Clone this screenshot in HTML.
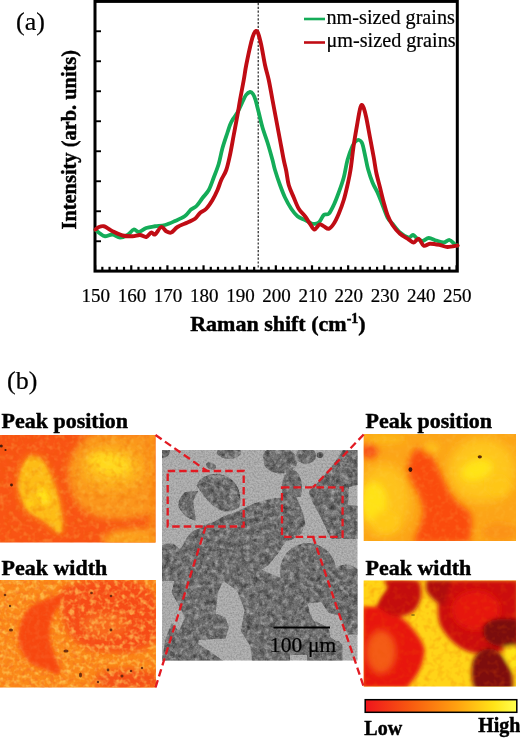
<!DOCTYPE html>
<html><head><meta charset="utf-8"><title>Figure</title>
<style>
html,body{margin:0;padding:0;background:#fff;}
svg{display:block;}
text{font-family:"Liberation Serif","DejaVu Serif",serif;fill:#000;stroke:#000;stroke-width:0.2px;}
.b{font-weight:bold;stroke-width:0.45px;}
</style></head><body>
<svg width="520" height="738" viewBox="0 0 520 738">
<defs>
<linearGradient id="cbar" x1="0" x2="1" y1="0" y2="0">
<stop offset="0" stop-color="#f0141c"/><stop offset="0.3" stop-color="#f85a10"/><stop offset="0.6" stop-color="#ffa010"/><stop offset="0.85" stop-color="#ffe418"/><stop offset="1" stop-color="#ffff50"/>
</linearGradient>
<filter id="bl2" x="-20%" y="-20%" width="140%" height="140%"><feGaussianBlur stdDeviation="2"/></filter>
<filter id="bl3" x="-20%" y="-20%" width="140%" height="140%"><feGaussianBlur stdDeviation="3.5"/></filter>
<filter id="bl5" x="-30%" y="-30%" width="160%" height="160%"><feGaussianBlur stdDeviation="6"/></filter>
<filter id="bl1" x="-20%" y="-20%" width="140%" height="140%"><feGaussianBlur stdDeviation="1"/></filter>
<filter id="bl05" x="-20%" y="-20%" width="140%" height="140%"><feGaussianBlur stdDeviation="0.6"/></filter>
<!-- monochrome noise for texture -->
<filter id="noiseA" x="0" y="0" width="100%" height="100%">
<feTurbulence type="fractalNoise" baseFrequency="0.35" numOctaves="2" seed="3" result="t"/>
<feColorMatrix in="t" type="matrix" values="0 0 0 0 0.35  0 0 0 0 0.05  0 0 0 0 0  1.6 0 0 0 -0.55"/>
</filter>
<filter id="noiseY" x="0" y="0" width="100%" height="100%">
<feTurbulence type="fractalNoise" baseFrequency="0.4" numOctaves="2" seed="11" result="t"/>
<feColorMatrix in="t" type="matrix" values="0 0 0 0 1  0 0 0 0 0.85  0 0 0 0 0.2  0 1.8 0 0 -0.7"/>
</filter>
<filter id="noiseG" x="0" y="0" width="100%" height="100%">
<feTurbulence type="fractalNoise" baseFrequency="0.55" numOctaves="3" seed="7" result="t"/>
<feColorMatrix in="t" type="matrix" values="0 0 0 0 0  0 0 0 0 0  0 0 0 0 0  2.2 0 0 0 -0.8"/>
</filter>
<filter id="noiseW" x="0" y="0" width="100%" height="100%">
<feTurbulence type="fractalNoise" baseFrequency="0.6" numOctaves="3" seed="21" result="t"/>
<feColorMatrix in="t" type="matrix" values="0 0 0 0 1  0 0 0 0 1  0 0 0 0 1  0 2.2 0 0 -0.85"/>
</filter>
<clipPath id="cTL"><rect x="0" y="435" width="155.5" height="107.5"/></clipPath>
<clipPath id="cBL"><rect x="0" y="580" width="156" height="107.5"/></clipPath>
<clipPath id="cTR"><rect x="363.7" y="434" width="152.3" height="107"/></clipPath>
<clipPath id="cBR"><rect x="363.7" y="580.6" width="152.3" height="106"/></clipPath>
<clipPath id="cSEM"><rect x="162" y="450" width="195.5" height="210.5"/></clipPath>
<filter id="mottleD" x="0" y="0" width="100%" height="100%">
<feTurbulence type="fractalNoise" baseFrequency="0.16" numOctaves="2" seed="5" result="t"/>
<feColorMatrix in="t" type="matrix" values="0 0 0 0 0.85  0 0 0 0 0.1  0 0 0 0 0  2.4 0 0 0 -1.1"/>
</filter>
<filter id="mottleL" x="0" y="0" width="100%" height="100%">
<feTurbulence type="fractalNoise" baseFrequency="0.18" numOctaves="2" seed="9" result="t"/>
<feColorMatrix in="t" type="matrix" values="0 0 0 0 1  0 0 0 0 0.8  0 0 0 0 0.15  0 2.4 0 0 -1.1"/>
</filter>
<filter id="speckL" x="0" y="0" width="100%" height="100%">
<feTurbulence type="fractalNoise" baseFrequency="0.2" numOctaves="2" seed="14" result="t"/>
<feColorMatrix in="t" type="matrix" values="0 0 0 0 1  0 0 0 0 0.72  0 0 0 0 0.14  0 3 0 0 -1.3"/>
</filter>
<filter id="speckD" x="0" y="0" width="100%" height="100%">
<feTurbulence type="fractalNoise" baseFrequency="0.22" numOctaves="2" seed="30" result="t"/>
<feColorMatrix in="t" type="matrix" values="0 0 0 0 0.9  0 0 0 0 0.12  0 0 0 0 0.02  3 0 0 0 -1.45"/>
</filter>
<filter id="semTex" x="0" y="0" width="100%" height="100%">
<feTurbulence type="fractalNoise" baseFrequency="0.17" numOctaves="3" seed="4" result="t"/>
<feColorMatrix in="t" type="matrix" values="0 0 0 0 0  0 0 0 0 0  0 0 0 0 0  2.0 0 0 0 -0.82"/>
</filter>
<mask id="grainMask" maskUnits="userSpaceOnUse" x="162" y="450" width="196" height="211"><rect x="162" y="450" width="196" height="211" fill="#000"/><g filter="url(#bl05)">
<g fill="#fff">
<circle cx="163" cy="451" r="7"/>
<ellipse cx="229" cy="452" rx="12" ry="7"/>
<ellipse cx="211" cy="466" rx="5.5" ry="3.2" transform="rotate(25 211 466)"/>
<path d="M196.5,485.5 C200,477 210,473 219,474 C230,475.5 238,484 240,494 C241,500 240,505 239,507.5 C235,510.5 228,512 223.5,511.5 C214,508.5 205,499 196.5,485.5Z"/>
<path d="M185,492 L198.5,490.7 C195,496 193,500 193.7,504 C194,510 196,516 195.6,520.7 C190,519 185,516 183,513.4 C180,510 178,507 178.3,503.8 C179,499 182,495 185,492Z"/>
<ellipse cx="280.5" cy="461" rx="17" ry="12.5"/>
<ellipse cx="271" cy="457" rx="8" ry="8"/>
<ellipse cx="306" cy="455.5" rx="10" ry="8.5"/>
<ellipse cx="320" cy="455" rx="3.5" ry="3"/>
<ellipse cx="292" cy="488" rx="10" ry="18"/>
<circle cx="280" cy="524" r="26"/>
<!-- lower mass -->
<path d="M162,545.6 C166,544 169,543 172,543.5 C176,545 178,548 180,549 C183,546 185,541 187,537.5 C189,535 191,532 193.6,530.8 L200,528 L204,525 L213.8,522 L223.5,516.3 L237,511.5 L244.4,508 L255,503 L270,499 L282,497.5 L299,497 L306,510 L331,539 L358,539 L358,661 L162,661Z"/>
</g>
<!-- light holes 1 -->
<g fill="#000">
<path d="M296,497 L335,495 L335,539 L358,539 L358,572 L330,572 L300,560 L283,578.5 L272.3,574.6 L261.7,569.8 L268.5,565 L278,553.5 L285.8,541 L291.5,540 L301,534 L305.5,524.6 L303,513 L299,503Z"/>
<path d="M162,581 L174.4,581 L171.5,592.5 L179,606 L185,617.5 L179,631 L171.5,623 L165,640 L163,655 L162,655Z"/>
<path d="M223.5,581 L237,590.5 L244.6,609.8 L240.8,631 L250.4,646 L252,661 L223.5,661 L208,650 L198,644 L199,640 L225.4,638.6 L229,627 L225.4,617.5 L215.8,613.6 L217.7,592.5Z"/>
</g>
<g fill="#fff">
<path d="M343,450 L358,450 L358,485 L349,487 L348,505 L358,506 L358,539 L331,539 C328,532 322,520 318,512 C314,505 309,497 309,491 C316,484 325,478 343,450Z"/>
<circle cx="308" cy="571" r="28"/>
<ellipse cx="346" cy="590" rx="20" ry="25.5"/>
<circle cx="353" cy="622" r="12"/>
</g>
<g fill="#000">
<path d="M307.5,603.5 L321,602 L329,613 L339.8,615.6 L344,626 L348,634.4 L358,634.4 L358,661 L342.5,661 L342.5,645 L339,641 L335.8,641 L330.4,637 L329,629 L323.6,625 L314,621 L310,614Z"/>
<path d="M290,655 L307,655 L307,661 L290,661Z"/>
</g>
</g>
</mask>
<filter id="semTexL" x="0" y="0" width="100%" height="100%">
<feTurbulence type="fractalNoise" baseFrequency="0.2" numOctaves="3" seed="17" result="t"/>
<feColorMatrix in="t" type="matrix" values="0 0 0 0 1  0 0 0 0 1  0 0 0 0 1  0 2.4 0 0 -1.05"/>
</filter>
<filter id="bl15" x="-20%" y="-20%" width="140%" height="140%"><feGaussianBlur stdDeviation="1.5"/></filter>

</defs>
<rect width="520" height="738" fill="#fff"/>
<!-- (a) plot -->
<g id="plot">
<rect x="95" y="1.4" width="362.3" height="269.7" fill="none" stroke="#000" stroke-width="3"/>
<g stroke="#000" stroke-width="2.2"><line x1="95.10" y1="265.3" x2="95.10" y2="270"/><line x1="102.33" y1="266.8" x2="102.33" y2="270"/><line x1="109.56" y1="266.8" x2="109.56" y2="270"/><line x1="116.79" y1="266.8" x2="116.79" y2="270"/><line x1="124.02" y1="266.8" x2="124.02" y2="270"/><line x1="131.25" y1="265.3" x2="131.25" y2="270"/><line x1="138.48" y1="266.8" x2="138.48" y2="270"/><line x1="145.71" y1="266.8" x2="145.71" y2="270"/><line x1="152.94" y1="266.8" x2="152.94" y2="270"/><line x1="160.17" y1="266.8" x2="160.17" y2="270"/><line x1="167.40" y1="265.3" x2="167.40" y2="270"/><line x1="174.63" y1="266.8" x2="174.63" y2="270"/><line x1="181.86" y1="266.8" x2="181.86" y2="270"/><line x1="189.09" y1="266.8" x2="189.09" y2="270"/><line x1="196.32" y1="266.8" x2="196.32" y2="270"/><line x1="203.55" y1="265.3" x2="203.55" y2="270"/><line x1="210.78" y1="266.8" x2="210.78" y2="270"/><line x1="218.01" y1="266.8" x2="218.01" y2="270"/><line x1="225.24" y1="266.8" x2="225.24" y2="270"/><line x1="232.47" y1="266.8" x2="232.47" y2="270"/><line x1="239.70" y1="265.3" x2="239.70" y2="270"/><line x1="246.93" y1="266.8" x2="246.93" y2="270"/><line x1="254.16" y1="266.8" x2="254.16" y2="270"/><line x1="261.39" y1="266.8" x2="261.39" y2="270"/><line x1="268.62" y1="266.8" x2="268.62" y2="270"/><line x1="275.85" y1="265.3" x2="275.85" y2="270"/><line x1="283.08" y1="266.8" x2="283.08" y2="270"/><line x1="290.31" y1="266.8" x2="290.31" y2="270"/><line x1="297.54" y1="266.8" x2="297.54" y2="270"/><line x1="304.77" y1="266.8" x2="304.77" y2="270"/><line x1="312.00" y1="265.3" x2="312.00" y2="270"/><line x1="319.23" y1="266.8" x2="319.23" y2="270"/><line x1="326.46" y1="266.8" x2="326.46" y2="270"/><line x1="333.69" y1="266.8" x2="333.69" y2="270"/><line x1="340.92" y1="266.8" x2="340.92" y2="270"/><line x1="348.15" y1="265.3" x2="348.15" y2="270"/><line x1="355.38" y1="266.8" x2="355.38" y2="270"/><line x1="362.61" y1="266.8" x2="362.61" y2="270"/><line x1="369.84" y1="266.8" x2="369.84" y2="270"/><line x1="377.07" y1="266.8" x2="377.07" y2="270"/><line x1="384.30" y1="265.3" x2="384.30" y2="270"/><line x1="391.53" y1="266.8" x2="391.53" y2="270"/><line x1="398.76" y1="266.8" x2="398.76" y2="270"/><line x1="405.99" y1="266.8" x2="405.99" y2="270"/><line x1="413.22" y1="266.8" x2="413.22" y2="270"/><line x1="420.45" y1="265.3" x2="420.45" y2="270"/><line x1="427.68" y1="266.8" x2="427.68" y2="270"/><line x1="434.91" y1="266.8" x2="434.91" y2="270"/><line x1="442.14" y1="266.8" x2="442.14" y2="270"/><line x1="449.37" y1="266.8" x2="449.37" y2="270"/><line x1="456.60" y1="265.3" x2="456.60" y2="270"/><line x1="95" y1="31.25" x2="101" y2="31.25" stroke-width="1.9"/><line x1="95" y1="61.25" x2="101" y2="61.25" stroke-width="1.9"/><line x1="95" y1="91.25" x2="101" y2="91.25" stroke-width="1.9"/><line x1="95" y1="121.25" x2="101" y2="121.25" stroke-width="1.9"/><line x1="95" y1="151.25" x2="101" y2="151.25" stroke-width="1.9"/><line x1="95" y1="181.25" x2="101" y2="181.25" stroke-width="1.9"/><line x1="95" y1="211.25" x2="101" y2="211.25" stroke-width="1.9"/><line x1="95" y1="241.25" x2="101" y2="241.25" stroke-width="1.9"/></g>
<line x1="258.2" y1="3" x2="258.2" y2="269" stroke="#111" stroke-width="1.1" stroke-dasharray="2.2 1.6"/>
<path d="M95.50,229.50 C96.25,230.17 98.42,232.38 100.00,233.50 C101.58,234.62 102.92,236.08 105.00,236.25 C107.08,236.42 110.00,234.29 112.50,234.50 C115.00,234.71 117.50,237.42 120.00,237.50 C122.50,237.58 125.21,236.33 127.50,235.00 C129.79,233.67 131.88,230.00 133.75,229.50 C135.62,229.00 136.67,232.25 138.75,232.00 C140.83,231.75 143.54,228.96 146.25,228.00 C148.96,227.04 151.88,226.75 155.00,226.25 C158.12,225.75 161.67,225.88 165.00,225.00 C168.33,224.12 171.67,222.50 175.00,221.00 C178.33,219.50 182.33,217.92 185.00,216.00 C187.67,214.08 189.08,211.17 191.00,209.50 C192.92,207.83 194.58,207.92 196.50,206.00 C198.42,204.08 200.46,200.67 202.50,198.00 C204.54,195.33 206.88,193.42 208.75,190.00 C210.62,186.58 212.08,181.88 213.75,177.50 C215.42,173.12 217.29,168.67 218.75,163.75 C220.21,158.83 221.04,153.21 222.50,148.00 C223.96,142.79 226.25,136.33 227.50,132.50 C228.75,128.67 229.08,127.25 230.00,125.00 C230.92,122.75 231.75,121.08 233.00,119.00 C234.25,116.92 236.00,115.17 237.50,112.50 C239.00,109.83 240.58,105.92 242.00,103.00 C243.42,100.08 244.67,96.83 246.00,95.00 C247.33,93.17 248.83,92.17 250.00,92.00 C251.17,91.83 252.08,92.67 253.00,94.00 C253.92,95.33 254.54,96.92 255.50,100.00 C256.46,103.08 257.58,107.92 258.75,112.50 C259.92,117.08 261.04,122.50 262.50,127.50 C263.96,132.50 265.83,137.08 267.50,142.50 C269.17,147.92 271.25,155.42 272.50,160.00 C273.75,164.58 273.75,165.83 275.00,170.00 C276.25,174.17 278.33,180.42 280.00,185.00 C281.67,189.58 283.12,193.54 285.00,197.50 C286.88,201.46 289.17,205.62 291.25,208.75 C293.33,211.88 295.21,214.38 297.50,216.25 C299.79,218.12 302.50,218.75 305.00,220.00 C307.50,221.25 310.21,223.33 312.50,223.75 C314.79,224.17 316.88,223.96 318.75,222.50 C320.62,221.04 322.08,216.46 323.75,215.00 C325.42,213.54 327.08,215.42 328.75,213.75 C330.42,212.08 332.08,208.54 333.75,205.00 C335.42,201.46 337.08,197.08 338.75,192.50 C340.42,187.92 342.29,182.92 343.75,177.50 C345.21,172.08 346.04,165.25 347.50,160.00 C348.96,154.75 351.08,149.17 352.50,146.00 C353.92,142.83 354.92,142.00 356.00,141.00 C357.08,140.00 358.08,139.83 359.00,140.00 C359.92,140.17 360.83,141.00 361.50,142.00 C362.17,143.00 362.33,143.42 363.00,146.00 C363.67,148.58 364.67,153.67 365.50,157.50 C366.33,161.33 366.83,164.83 368.00,169.00 C369.17,173.17 370.92,178.58 372.50,182.50 C374.08,186.42 375.83,188.75 377.50,192.50 C379.17,196.25 380.83,200.83 382.50,205.00 C384.17,209.17 385.83,214.38 387.50,217.50 C389.17,220.62 390.42,221.25 392.50,223.75 C394.58,226.25 397.29,230.21 400.00,232.50 C402.71,234.79 406.58,237.08 408.75,237.50 C410.92,237.92 411.54,234.79 413.00,235.00 C414.46,235.21 415.92,237.75 417.50,238.75 C419.08,239.75 420.62,241.12 422.50,241.00 C424.38,240.88 426.46,238.08 428.75,238.00 C431.04,237.92 433.75,239.75 436.25,240.50 C438.75,241.25 441.54,242.58 443.75,242.50 C445.96,242.42 447.62,239.67 449.50,240.00 C451.38,240.33 453.67,243.58 455.00,244.50 C456.33,245.42 457.08,245.33 457.50,245.50" fill="none" stroke="#14ac58" stroke-width="3.8" stroke-linejoin="round" stroke-linecap="round"/>
<path d="M95.50,229.50 C96.08,229.08 97.62,227.54 99.00,227.00 C100.38,226.46 102.25,226.00 103.75,226.25 C105.25,226.50 106.54,227.67 108.00,228.50 C109.46,229.33 110.08,230.08 112.50,231.25 C114.92,232.42 119.17,234.67 122.50,235.50 C125.83,236.33 129.58,236.33 132.50,236.25 C135.42,236.17 137.71,234.88 140.00,235.00 C142.29,235.12 144.38,237.42 146.25,237.00 C148.12,236.58 149.79,232.92 151.25,232.50 C152.71,232.08 153.33,235.42 155.00,234.50 C156.67,233.58 159.38,227.54 161.25,227.00 C163.12,226.46 164.58,230.33 166.25,231.25 C167.92,232.17 169.38,233.21 171.25,232.50 C173.12,231.79 174.79,228.67 177.50,227.00 C180.21,225.33 184.58,223.88 187.50,222.50 C190.42,221.12 192.92,220.33 195.00,218.75 C197.08,217.17 198.12,214.67 200.00,213.00 C201.88,211.33 204.17,210.92 206.25,208.75 C208.33,206.58 210.62,203.12 212.50,200.00 C214.38,196.88 216.04,193.33 217.50,190.00 C218.96,186.67 219.79,183.33 221.25,180.00 C222.71,176.67 224.79,174.17 226.25,170.00 C227.71,165.83 228.75,160.83 230.00,155.00 C231.25,149.17 232.50,141.67 233.75,135.00 C235.00,128.33 236.46,120.83 237.50,115.00 C238.54,109.17 238.96,105.83 240.00,100.00 C241.04,94.17 242.71,85.83 243.75,80.00 C244.79,74.17 245.00,71.33 246.25,65.00 C247.50,58.67 249.96,47.25 251.25,42.00 C252.54,36.75 253.21,35.33 254.00,33.50 C254.79,31.67 255.33,31.08 256.00,31.00 C256.67,30.92 257.12,30.67 258.00,33.00 C258.88,35.33 260.08,39.67 261.25,45.00 C262.42,50.33 263.75,59.17 265.00,65.00 C266.25,70.83 267.50,74.17 268.75,80.00 C270.00,85.83 271.25,93.33 272.50,100.00 C273.75,106.67 275.00,113.33 276.25,120.00 C277.50,126.67 278.75,133.33 280.00,140.00 C281.25,146.67 282.71,154.83 283.75,160.00 C284.79,165.17 285.42,166.83 286.25,171.00 C287.08,175.17 287.50,180.58 288.75,185.00 C290.00,189.42 292.08,193.54 293.75,197.50 C295.42,201.46 296.88,205.62 298.75,208.75 C300.62,211.88 303.12,213.75 305.00,216.25 C306.88,218.75 308.42,221.54 310.00,223.75 C311.58,225.96 312.92,229.38 314.50,229.50 C316.08,229.62 317.96,225.04 319.50,224.50 C321.04,223.96 322.21,225.54 323.75,226.25 C325.29,226.96 327.08,229.17 328.75,228.75 C330.42,228.33 332.08,226.25 333.75,223.75 C335.42,221.25 337.08,217.71 338.75,213.75 C340.42,209.79 342.29,204.79 343.75,200.00 C345.21,195.21 346.38,190.00 347.50,185.00 C348.62,180.00 349.46,176.67 350.50,170.00 C351.54,163.33 352.58,152.92 353.75,145.00 C354.92,137.08 356.46,128.50 357.50,122.50 C358.54,116.50 359.29,111.92 360.00,109.00 C360.71,106.08 361.12,105.17 361.75,105.00 C362.38,104.83 363.00,105.92 363.75,108.00 C364.50,110.08 365.21,112.58 366.25,117.50 C367.29,122.42 368.75,130.83 370.00,137.50 C371.25,144.17 372.71,151.67 373.75,157.50 C374.79,163.33 375.21,167.50 376.25,172.50 C377.29,177.50 378.75,182.50 380.00,187.50 C381.25,192.50 382.50,197.92 383.75,202.50 C385.00,207.08 386.04,211.25 387.50,215.00 C388.96,218.75 390.42,221.88 392.50,225.00 C394.58,228.12 397.29,231.33 400.00,233.75 C402.71,236.17 406.46,238.04 408.75,239.50 C411.04,240.96 412.08,242.62 413.75,242.50 C415.42,242.38 417.08,238.21 418.75,238.75 C420.42,239.29 421.88,244.92 423.75,245.75 C425.62,246.58 427.29,243.88 430.00,243.75 C432.71,243.62 437.08,244.46 440.00,245.00 C442.92,245.54 444.58,246.92 447.50,247.00 C450.42,247.08 455.83,245.75 457.50,245.50" fill="none" stroke="#c00c14" stroke-width="3.9" stroke-linejoin="round" stroke-linecap="round"/>
<line x1="304" y1="19" x2="325" y2="19" stroke="#14ac58" stroke-width="2.6"/>
<line x1="304" y1="42.5" x2="325" y2="42.5" stroke="#c00c14" stroke-width="2.6"/>
<text x="326.5" y="23.5" font-size="20.2">nm-sized grains</text>
<text x="326.5" y="46.5" font-size="20.2">μm-sized grains</text>
<g font-size="19"><text x="95.8" y="301.6" text-anchor="middle">150</text><text x="131.9" y="301.6" text-anchor="middle">160</text><text x="168.1" y="301.6" text-anchor="middle">170</text><text x="204.2" y="301.6" text-anchor="middle">180</text><text x="240.4" y="301.6" text-anchor="middle">190</text><text x="276.6" y="301.6" text-anchor="middle">200</text><text x="312.7" y="301.6" text-anchor="middle">210</text><text x="348.8" y="301.6" text-anchor="middle">220</text><text x="385.0" y="301.6" text-anchor="middle">230</text><text x="421.2" y="301.6" text-anchor="middle">240</text><text x="457.3" y="301.6" text-anchor="middle">250</text></g>
<text x="190.2" y="331" font-size="22" class="b">Raman shift (cm<tspan dy="-8" font-size="14">-1</tspan><tspan dy="8">)</tspan></text>
<text transform="translate(76,229.5) rotate(-90)" font-size="20.4" class="b">Intensity (arb. units)</text>
<text x="16" y="30" font-size="26">(a)</text>
</g>
<!-- (b) -->
<text x="7" y="389" font-size="26">(b)</text>
<text x="1.5" y="428" font-size="22" class="b">Peak position</text>
<text x="1.5" y="575" font-size="22" class="b">Peak width</text>
<text x="365.5" y="428" font-size="22" class="b">Peak position</text>
<text x="365.5" y="575" font-size="22" class="b">Peak width</text>
<!-- TL: peak position (nm grains) -->
<g clip-path="url(#cTL)">
<rect x="0" y="435" width="156" height="108" fill="#f95414"/>
<g filter="url(#bl3)">
<path d="M82,440 C74,450 68,460 68,472 C68,488 74,502 84,510 C95,518 110,521 129,519 C140,518 150,514 160,508 L160,432 L90,432Z" fill="#fb961a"/>
<ellipse cx="138" cy="540" rx="36" ry="12" fill="#fca01e"/>
<rect x="149" y="435" width="10" height="108" fill="#fb8c18"/>
</g>
<g filter="url(#bl5)">
<ellipse cx="112" cy="468" rx="32" ry="22" fill="#fdb41c"/>
</g>
<g filter="url(#bl3)">
<ellipse cx="110" cy="464" rx="22" ry="11" fill="#ffd81c" transform="rotate(12 110 464)"/>
</g>
<g filter="url(#bl3)">
<path d="M28,458 C32,455 40,456 45,465 C50,474 55,486 57,495 C60,505 62,520 62,530 C61,533 58,533 55,530 C50,524 45,521 40,518 C34,515 30,513 27,509 C23,504 20,496 19,485 C19,478 22,465 28,458Z" fill="#fb9a18" stroke="#fb9a18" stroke-width="3"/>
</g>
<g filter="url(#bl15)">
<path d="M28,458 C32,455 40,456 45,465 C50,474 55,486 57,495 C60,505 62,520 62,530 C61,533 58,533 55,530 C50,524 45,521 40,518 C34,515 30,513 27,509 C23,504 20,496 19,485 C19,478 22,465 28,458Z" fill="#fdbc18"/>
</g>
<g filter="url(#bl2)">
<ellipse cx="43" cy="496" rx="5" ry="9" fill="#ffe214" transform="rotate(-25 43 496)"/>
<ellipse cx="30" cy="503" rx="3" ry="4" fill="#ffd814"/>
</g>
<rect x="0" y="435" width="156" height="108" filter="url(#mottleD)" opacity="0.3"/>
<rect x="0" y="435" width="156" height="108" filter="url(#mottleL)" opacity="0.25"/>
<g fill="#4a1a08" filter="url(#bl05)"><circle cx="1.2" cy="446" r="1.6"/><circle cx="5.5" cy="450" r="1.1"/><circle cx="11.5" cy="485" r="1.4"/></g>
</g>
<!-- BL: peak width (nm grains) -->
<g clip-path="url(#cBL)">
<rect x="0" y="580" width="156" height="108" fill="#fb8818"/>
<g filter="url(#bl3)">
<path d="M60,590 C75,578 110,576 135,580 C160,584 162,620 158,638 C150,650 130,654 112,652 C95,652 82,648 72,638 C64,628 58,610 60,590Z" fill="#f74c16"/>
<ellipse cx="128" cy="680" rx="34" ry="11" fill="#f55018"/>
<ellipse cx="105" cy="625" rx="22" ry="12" fill="#f96a1c"/>
</g>

<rect x="0" y="580" width="156" height="108" filter="url(#speckL)" opacity="0.6"/>
<g filter="url(#bl2)" opacity="0.8">
<path d="M62,594 C52,597 40,601 30,607 C24,612 19,624 18,636 C18,645 22,655 30,663 C38,668 48,669 55,674 C59,676 61,673 60,668 C57,660 52,650 50,640 C49,632 50,622 55,612 C58,606 63,602 62,594Z" fill="#f7380e"/>
</g>
<rect x="0" y="580" width="156" height="108" filter="url(#speckD)" opacity="0.45"/>
<g fill="#5a240a" filter="url(#bl05)" opacity="0.85"><ellipse cx="11" cy="630" rx="2" ry="1.6"/><ellipse cx="66" cy="651" rx="2.6" ry="1.6"/><ellipse cx="80.5" cy="675" rx="1.5" ry="2.6"/><circle cx="111" cy="596" r="1.3"/><circle cx="91.5" cy="593" r="1.3"/><circle cx="111" cy="630" r="1.4"/><circle cx="108" cy="670" r="1.4"/><circle cx="122" cy="676" r="1.5"/><circle cx="5" cy="595" r="1.3"/><circle cx="10" cy="606" r="1.2"/><circle cx="131" cy="671" r="1.3"/><circle cx="142" cy="668" r="1.2"/><circle cx="98" cy="682" r="1.2"/></g>
</g>
<!-- TR: peak position (um grains) -->
<g clip-path="url(#cTR)">
<rect x="363" y="434" width="154" height="108" fill="#fca418"/>
<g filter="url(#bl5)">
<ellipse cx="384" cy="500" rx="26" ry="36" fill="#fec21c"/>
<ellipse cx="482" cy="470" rx="34" ry="32" fill="#fec61c"/>
</g>
<g filter="url(#bl3)">
<path d="M415,450 C418,446 426,446 429,450 C433,458 437,466 441,474 C444,482 448,490 455,500 C460,505 467,509 470,513 C473,520 472,530 469,543 L413,543 C416,536 421,524 423,514 C424,506 420,498 414,486 C409,478 406,470 409,461 C411,456 413,453 415,450Z" fill="#fa4c10"/>
<ellipse cx="369" cy="451" rx="9" ry="7.5" fill="#f84c16"/>
<ellipse cx="374" cy="502" rx="13" ry="20" fill="#ffe212"/>
<ellipse cx="386" cy="522" rx="13" ry="11" fill="#ffc818"/>
<ellipse cx="477" cy="470" rx="16" ry="10" fill="#ffe414" transform="rotate(-20 477 470)"/>
<ellipse cx="498" cy="486" rx="12" ry="10" fill="#fec618"/>
<ellipse cx="431" cy="448" rx="8" ry="5" fill="#fec41a"/>
<ellipse cx="385" cy="439" rx="20" ry="5" fill="#fdb818"/>
<ellipse cx="500" cy="532" rx="18" ry="9" fill="#fb9214"/>
</g>
<rect x="363" y="434" width="154" height="108" filter="url(#mottleL)" opacity="0.15"/>
<g fill="#3a1208" filter="url(#bl05)"><ellipse cx="410.4" cy="469.6" rx="1.9" ry="2.4"/><ellipse cx="479.8" cy="456.8" rx="2.1" ry="1.6" fill="#5a2a08"/></g>
</g>
<!-- BR: peak width (um grains) -->
<g clip-path="url(#cBR)">
<rect x="363" y="580" width="154" height="108" fill="#ffd418"/>
<g filter="url(#bl2)">
<path d="M362,607 C372,604 388,608 398,615.6 C405,620 409,624 411.6,627.6 C417,634 421,640 422,642.7 C425,648 425,652 423.7,656 C423,662 421,667 419,671 C415,678 411,683 407,688 L362,688Z" fill="#e8160c"/>
<path d="M384,580 C390,579 412,579 419,581 C423,590 422,602 415,610 C409,616 398,618 390,615 C384,612 380,608 376,606 C378,600 380,596 383,592 C386,588 386,584 384,580Z" fill="#c41010"/>
<path d="M444,580 L518,580 L518,648 C505,652 490,655 473,653 C460,650 448,640 440,625 C436,612 438,592 444,580Z" fill="#cc100c"/>
<path d="M426,580 L452,580 C448,590 446,600 444,606 C438,604 430,598 426,590Z" fill="#b00c0c"/>
</g>
<g filter="url(#bl3)">
<ellipse cx="381" cy="652" rx="15" ry="22" fill="#f45c18"/>
<ellipse cx="476" cy="610" rx="24" ry="20" fill="#e6120c"/>
</g>
<g filter="url(#bl2)">
<path d="M484,626 C488,619 500,617 518,620 L518,644 C508,648 496,648 488,642 C483,637 482,631 484,626Z" fill="#7c0808"/>
<path d="M472,668 C472,658 478,650 488,648 C496,648 502,654 506,662 C512,670 514,680 512,690 L476,690 C472,684 471,676 472,668Z" fill="#7e0808"/>
<path d="M503,648 C508,646 514,646 518,646 L518,672 C512,668 506,660 503,648Z" fill="#ffe416"/>
<path d="M364,582 L388,586 C384,592 380,596 378,600 C377,604 376,606 364,604Z" fill="#ffd214"/>
</g>
<rect x="363" y="580" width="154" height="108" filter="url(#mottleD)" opacity="0.25"/>
<ellipse cx="413" cy="615" rx="2" ry="1" fill="#8a6a10" opacity="0.8"/>
</g>

<g clip-path="url(#cSEM)">
<rect x="162" y="450" width="196" height="211" fill="#b0b0b0"/>
<g mask="url(#grainMask)">
<rect x="162" y="450" width="196" height="211" fill="#707070"/>
<rect x="162" y="450" width="196" height="211" filter="url(#semTex)" opacity="0.5"/>
<rect x="162" y="450" width="196" height="211" filter="url(#semTexL)" opacity="0.4"/>
</g>

<rect x="162" y="450" width="196" height="211" filter="url(#noiseG)" opacity="0.16"/>
<rect x="162" y="450" width="196" height="211" filter="url(#noiseW)" opacity="0.12"/>
<line x1="273.4" y1="627.6" x2="330" y2="627.6" stroke="#000" stroke-width="2"/>
<text x="269.8" y="652" font-size="21.5" textLength="66.5" lengthAdjust="spacing">100 μm</text>
</g>
<!-- callouts -->
<g fill="none" stroke="#e21a22" stroke-width="2.3" stroke-dasharray="7.5 4">
<rect x="167.7" y="471" width="76" height="55.5"/>
<rect x="282" y="487.4" width="60.6" height="49.4"/>
<line x1="155.5" y1="435" x2="207" y2="471"/>
<line x1="205.7" y1="526.5" x2="155.5" y2="687.5"/>
<line x1="363.7" y1="434.5" x2="313" y2="487.4"/>
<line x1="313" y1="536.8" x2="363.7" y2="686.6"/>
</g>

<!-- colour bar -->
<rect x="365.2" y="699.7" width="151.6" height="12.6" fill="url(#cbar)" stroke="#000" stroke-width="1.5"/>
<text x="364.3" y="735.4" font-size="20" class="b">Low</text>
<text x="478.2" y="732.2" font-size="20" class="b">High</text>
</svg>
</body></html>
